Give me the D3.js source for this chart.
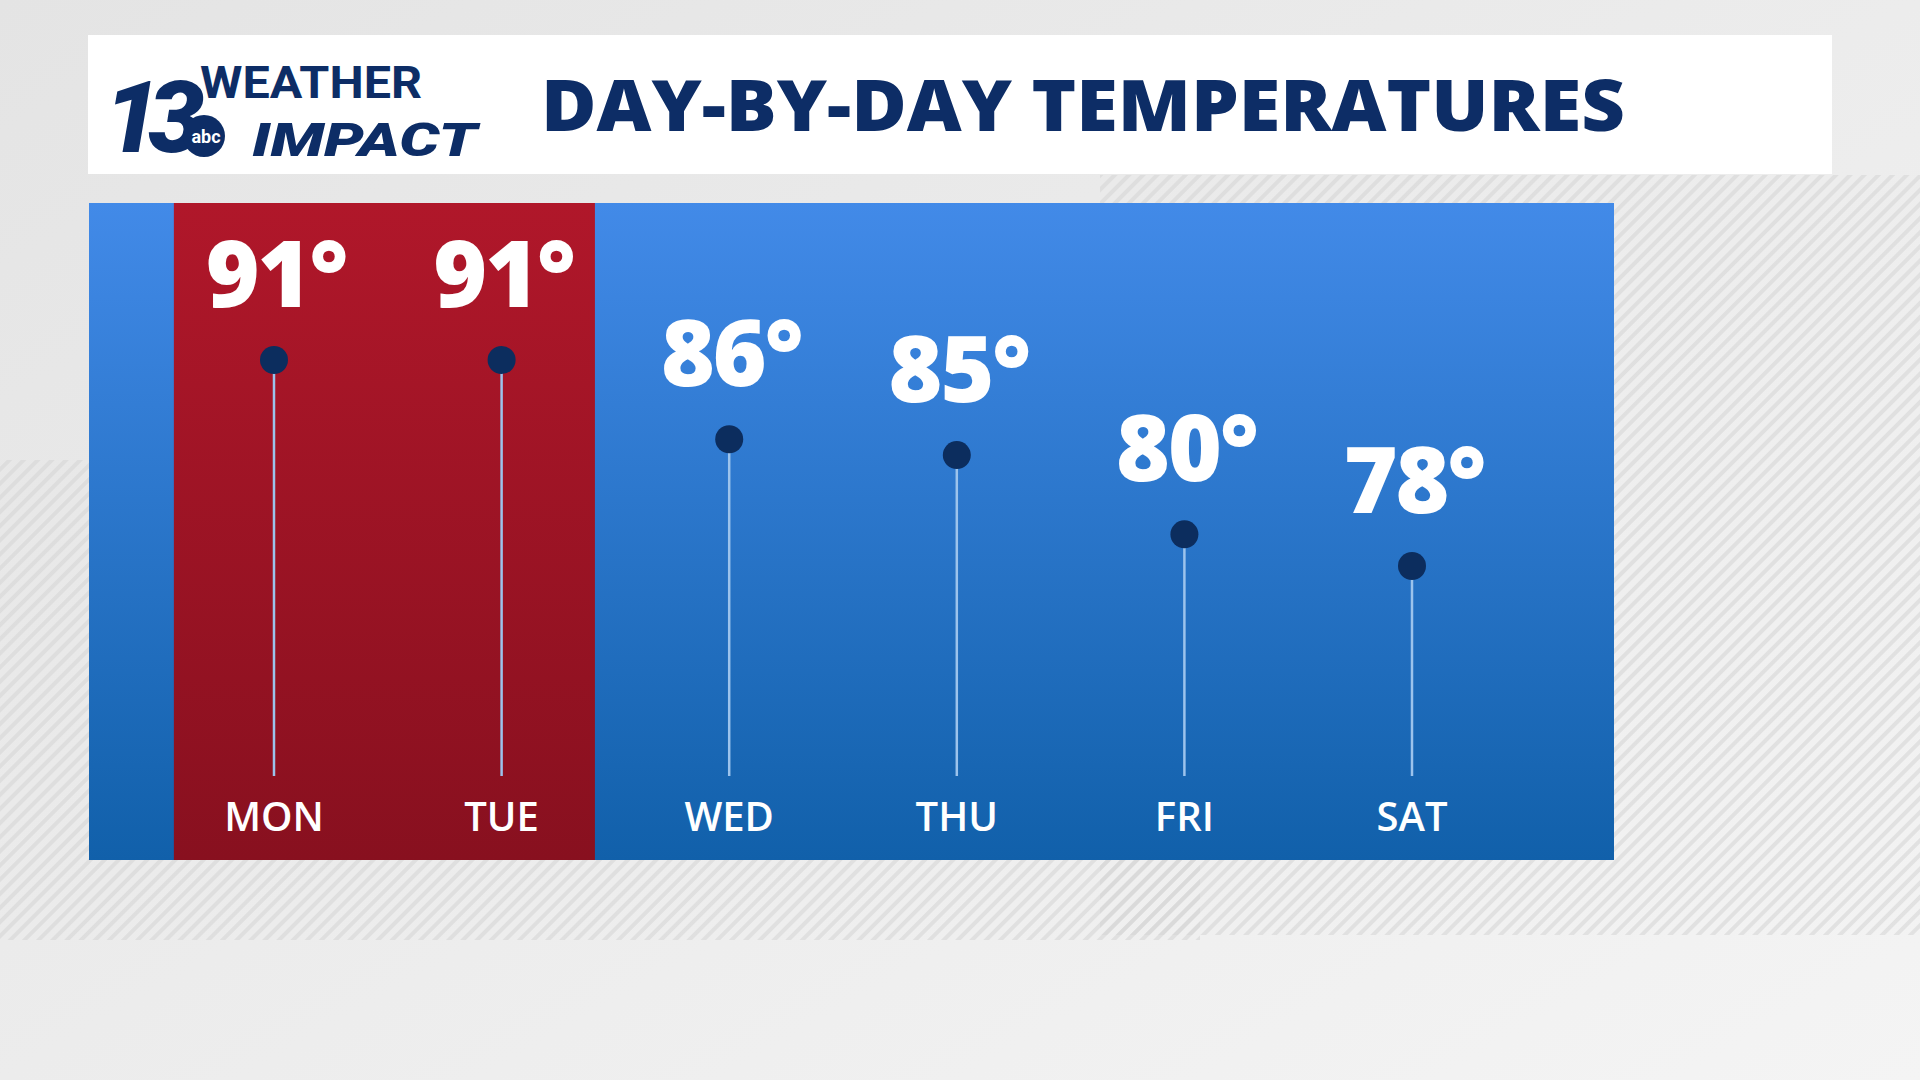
<!DOCTYPE html>
<html><head><meta charset="utf-8">
<script src="https://cdn.jsdelivr.net/npm/d3@7"></script>
<style>body{margin:0;overflow:hidden}</style></head>
<body><script>
const days=["MON","TUE","WED","THU","FRI","SAT"];
const temps=[91,91,86,85,80,78];
const hotDays=["MON","TUE"];
const title="DAY-BY-DAY TEMPERATURES";

const W=1920,H=1080;
const svg=d3.select("body").append("svg").attr("width",W).attr("height",H);
const defs=svg.append("defs");
const bg=defs.append("linearGradient").attr("id","bg").attr("x1",0).attr("y1",0).attr("x2",1).attr("y2",1);
bg.append("stop").attr("offset",0).attr("stop-color","#e4e4e4");
bg.append("stop").attr("offset",1).attr("stop-color","#f4f4f4");
const pat=defs.append("pattern").attr("id","str").attr("width",10).attr("height",10).attr("patternUnits","userSpaceOnUse").attr("patternTransform","rotate(45)");
pat.append("rect").attr("width",4).attr("height",10).attr("fill","#d6d6d6");
const bl=defs.append("linearGradient").attr("id","blue").attr("x1",0).attr("y1",0).attr("x2",0).attr("y2",1);
bl.append("stop").attr("offset",0).attr("stop-color","#428ae8");
bl.append("stop").attr("offset",1).attr("stop-color","#1160aa");
const rd=defs.append("linearGradient").attr("id","red").attr("x1",0).attr("y1",0).attr("x2",0).attr("y2",1);
rd.append("stop").attr("offset",0).attr("stop-color","#b0172a");
rd.append("stop").attr("offset",1).attr("stop-color","#88101f");

svg.append("rect").attr("width",W).attr("height",H).attr("fill","url(#bg)");
svg.append("rect").attr("x",1100).attr("y",175).attr("width",820).attr("height",760).attr("fill","url(#str)").attr("opacity",0.6);
svg.append("rect").attr("x",0).attr("y",460).attr("width",1200).attr("height",480).attr("fill","url(#str)").attr("opacity",0.6);

// header
svg.append("rect").attr("x",88).attr("y",35).attr("width",1744).attr("height",139).attr("fill","#fff");
svg.append("text").attr("x",541).attr("y",131).attr("font-family","'Open Sans', sans-serif").attr("font-weight",800)
  .attr("font-size",70).attr("fill","#0d2d66").attr("textLength",1084).attr("lengthAdjust","spacingAndGlyphs").text(title);
// logo
const lg=svg.append("g").attr("font-family","Roboto, sans-serif").attr("fill","#0d2d66");
lg.append("text").attr("x",104).attr("y",152).attr("font-size",100).attr("font-weight",900).attr("font-style","italic").attr("letter-spacing",-12).text("13");
lg.append("circle").attr("cx",204).attr("cy",136).attr("r",21).attr("fill","#0d2d66");
lg.append("text").attr("x",206).attr("y",143).attr("text-anchor","middle").attr("font-size",18).attr("font-weight",700).attr("fill","#fff").text("abc");
lg.append("text").attr("x",200).attr("y",98).attr("font-size",44).attr("font-weight",700).attr("textLength",222).attr("lengthAdjust","spacingAndGlyphs").text("WEATHER");
lg.append("text").attr("x",252).attr("y",156).attr("font-size",46).attr("font-weight",900).attr("font-style","italic").attr("textLength",225).attr("lengthAdjust","spacingAndGlyphs").text("IMPACT");

// panel
const px0=89,px1=1614,py0=203,py1=860;
svg.append("rect").attr("x",px0).attr("y",py0).attr("width",px1-px0).attr("height",py1-py0).attr("fill","url(#blue)");
const x=d3.scalePoint().domain(days).range([274,1412]);
const step=x.step();
const hot=hotDays.map(x);
const rl=d3.min(hot)-step*0.44, rr=d3.max(hot)+step*0.41;
svg.append("rect").attr("x",rl).attr("y",py0).attr("width",rr-rl).attr("height",py1-py0).attr("fill","url(#red)");
const y=d3.scaleLinear().domain([78,91]).range([566,360]);
const base=776;
const g=svg.selectAll("g.d").data(days.map((d,i)=>({d,t:temps[i]}))).join("g");
g.append("line").attr("x1",d=>x(d.d)).attr("x2",d=>x(d.d)).attr("y1",d=>y(d.t)).attr("y2",base).attr("stroke","#9cc3ec").attr("stroke-width",2.5);
g.append("circle").attr("cx",d=>x(d.d)).attr("cy",d=>y(d.t)).attr("r",14).attr("fill","#0c2d5e");
g.append("text").attr("x",d=>x(d.d)+2).attr("y",d=>y(d.t)-53).attr("text-anchor","middle").attr("font-family","'Open Sans', sans-serif")
  .attr("font-weight",800).attr("font-size",92).attr("letter-spacing",-2).attr("fill","#fff").text(d=>d.t+"°");
g.append("text").attr("x",d=>x(d.d)).attr("y",831).attr("text-anchor","middle").attr("font-family","'Open Sans', sans-serif")
  .attr("font-weight",600).attr("font-size",40).attr("fill","#fff").text(d=>d.d);
</script></body></html>
